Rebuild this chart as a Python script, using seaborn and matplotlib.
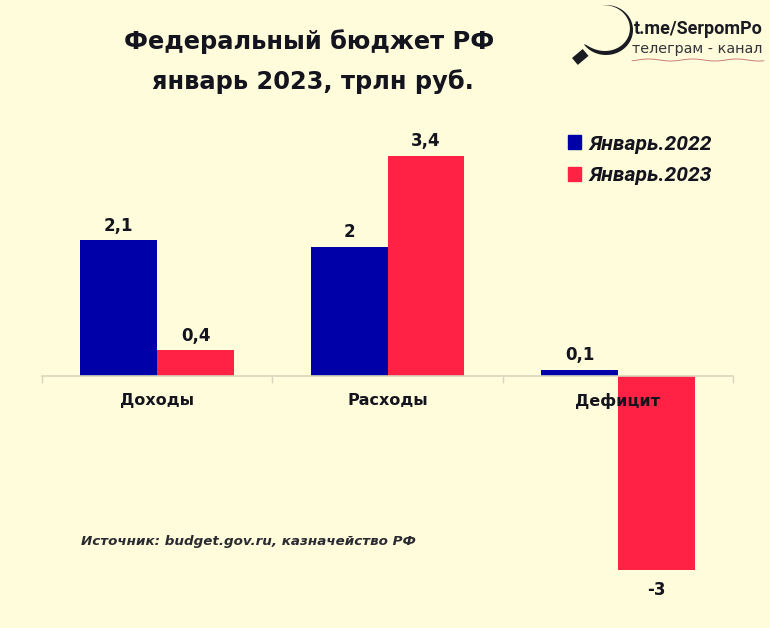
import matplotlib
matplotlib.use('Agg')
import matplotlib.pyplot as plt
from matplotlib.patches import Polygon, Rectangle
import numpy as np
import pandas as pd
import seaborn as sns

# Data
categories = ['Доходы', 'Расходы', 'Дефицит']
values_2022 = [2.1, 2, 0.1]
values_2023 = [0.4, 3.4, -3]
labels_2022 = ['2,1', '2', '0,1']
labels_2023 = ['0,4', '3,4', '-3']
series_names = ['Январь.2022', 'Январь.2023']

BG = '#FFFCDC'
BLUE = '#0000A8'
RED = '#FF2244'
INK = '#14141E'

sns.set_theme(style='white')
plt.rcParams['font.family'] = ['DejaVu Sans']

df = pd.DataFrame({
    'cat': categories * 2,
    'series': [series_names[0]] * 3 + [series_names[1]] * 3,
    'value': values_2022 + values_2023,
})

fig = plt.figure(figsize=(7.7, 6.28), dpi=100, facecolor=BG)
ax = fig.add_axes([42 / 770, 1 - 600 / 628, (733 - 42) / 770, 500 / 628])
ax.set_facecolor('none')

sns.barplot(data=df, x='cat', y='value', hue='series', order=categories,
            hue_order=series_names, palette=[BLUE, RED], width=2 / 3, gap=0,
            saturation=1, errorbar=None, legend=False, linewidth=0, ax=ax)

ax.set_xlim(-0.5, 2.5)
ax.set_ylim(-224 / 64.7, 276 / 64.7)
ax.set_xlabel('')
ax.set_ylabel('')
ax.set_yticks([])
ax.set_axisbelow(False)

for s in ['top', 'left', 'right']:
    ax.spines[s].set_visible(False)
ax.spines['bottom'].set_position(('data', 0))
ax.spines['bottom'].set_color('#D8D6BC')
ax.spines['bottom'].set_linewidth(1.2)

# ticks sit between the categories
ax.set_xticks([-0.5, 0.5, 1.5, 2.5], minor=True)
ax.tick_params(axis='x', which='minor', length=5, width=1, color='#D8D6BC', bottom=True)
ax.tick_params(axis='x', which='major', length=0, pad=12)
ax.set_xticks(range(3))
ax.set_xticklabels(categories, fontsize=11.5, fontweight='bold', color=INK)

# Bar value labels
for container, labels in zip(ax.containers, [labels_2022, labels_2023]):
    texts = ax.bar_label(container, labels=labels, padding=4, fontsize=12, fontweight='bold', color=INK)
    for t in texts:
        if t.get_text() == '-3':
            t.xyann = (0, -8)

# Title
fig.text(309 / 770, 1 - 42 / 628, 'Федеральный бюджет РФ', ha='center', va='center',
         fontsize=17.4, fontweight='bold', color=INK)
fig.text(313 / 770, 1 - 82 / 628, 'январь 2023, трлн руб.', ha='center', va='center',
         fontsize=17.4, fontweight='bold', color=INK)

# Legend
handles = [Rectangle((0, 0), 1, 1, color=BLUE), Rectangle((0, 0), 1, 1, color=RED)]
fig.legend(handles, series_names, loc='center left', bbox_to_anchor=(568 / 770, 1 - 160 / 628),
           frameon=False, handlelength=0.62, handleheight=0.62, handletextpad=0.4,
           labelspacing=0.6, borderpad=0, borderaxespad=0,
           prop={'size': 15.2, 'weight': 'bold', 'style': 'italic', 'family': 'Roboto'}, labelcolor=INK)

# Source
fig.text(81 / 770, 1 - 541 / 628, 'Источник: budget.gov.ru, казначейство РФ', ha='left', va='center',
         fontsize=9.7, fontweight='bold', fontstyle='italic', color='#2A2A30')

# Logo: sickle, channel name, wavy underline
logo = fig.add_axes([0, 0, 1, 1], facecolor='none')
logo.set_xlim(0, 770)
logo.set_ylim(628, 0)
logo.axis('off')
t = np.radians(np.linspace(-100, 145, 80))
taper = 6 * np.linspace(0, 1, 80) ** 0.7 * np.sin(np.linspace(0.02, np.pi, 80)) ** 0.5
outer = np.column_stack([606 + 27 * np.cos(t), 30 + 25 * np.sin(t)])
inner = np.column_stack([606 + (27 - taper) * np.cos(t), 30 + (25 - taper) * np.sin(t)])
logo.add_patch(Polygon(np.vstack([outer, inner[::-1]]), closed=True, color='#1A1A22', lw=0))
logo.add_patch(Rectangle((572, 58), 14, 9, angle=-40, color='#1A1A22', lw=0))
logo.text(634, 29, 't.me/SerpomPo', fontsize=13, fontweight='bold', family='Roboto', color='#1A1A22', va='center')
logo.text(632, 49, 'телеграм - канал', fontsize=10.4, color='#33333A', va='center')
wave_x = np.linspace(632, 764, 120)
logo.plot(wave_x, 60 + 1.0 * np.sin(wave_x / 7), color='#C98070', lw=0.7)

plt.savefig('out.png', dpi=100, facecolor=BG)
